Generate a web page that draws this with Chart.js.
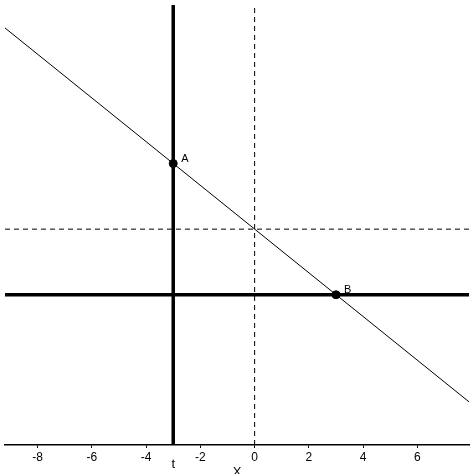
<!DOCTYPE html><html><head><script src="https://cdn.jsdelivr.net/npm/chart.js@4"></script>
<style>body{margin:0;background:#fff}#w{width:474px;height:474px}</style></head><body><div id="w"><canvas id="c"></canvas></div>
<script>
const xRange=[-9.2,7.9];
const lineX=[-9.2,7.9];
const lineY=[15.07,1.56];
const pointsX=[-3,3];
const pointsY=[10.17,5.43];
const pointLabels=['A','B'];
const vThickX=-3, hThickY=5.43, vDashX=0, hDashY=7.8;
const yRange=[0,15.9];
const xTicks=[-8,-6,-4,-2,0,2,4,6];
const ds=[
 {data:lineX.map((x,i)=>({x,y:lineY[i]})),showLine:true,borderColor:'#000',borderWidth:1,pointRadius:0},
 {data:[{x:vThickX,y:yRange[0]},{x:vThickX,y:yRange[1]}],showLine:true,borderColor:'#000',borderWidth:3.5,pointRadius:0},
 {data:[{x:xRange[0],y:hThickY},{x:xRange[1],y:hThickY}],showLine:true,borderColor:'#000',borderWidth:3.5,pointRadius:0},
 {data:[{x:vDashX,y:yRange[0]},{x:vDashX,y:yRange[1]}],showLine:true,borderColor:'#000',borderWidth:1,borderDash:[5,4],pointRadius:0},
 {data:[{x:xRange[0],y:hDashY},{x:xRange[1],y:hDashY}],showLine:true,borderColor:'#000',borderWidth:1,borderDash:[5,4],pointRadius:0},
 {data:pointsX.map((x,i)=>({x,y:pointsY[i]})),showLine:false,pointRadius:4,backgroundColor:'#000',borderColor:'#000'}
];
const labelsPlugin={id:'lbl',afterDatasetsDraw(ch){const c=ch.ctx,xs=ch.scales.x,ys=ch.scales.y;c.save();c.fillStyle='#000';c.font='11px "Liberation Sans"';
 pointsX.forEach((x,i)=>c.fillText(pointLabels[i],xs.getPixelForValue(x)+8,ys.getPixelForValue(pointsY[i])-2));
 c.textAlign='center';c.font='13px "Liberation Sans"';c.fillText('t',xs.getPixelForValue(vThickX),ys.bottom+23);c.restore();}};
new Chart(document.getElementById('c'),{type:'scatter',data:{datasets:ds},plugins:[labelsPlugin],
options:{responsive:true,maintainAspectRatio:false,animation:false,layout:{padding:{top:0,left:-5,right:-5,bottom:-6}},
plugins:{legend:{display:false},tooltip:{enabled:false}},
elements:{line:{tension:0}},
scales:{x:{type:'linear',min:xRange[0],max:xRange[1],afterBuildTicks:s=>{s.ticks=xTicks.map(v=>({value:v}));},
 grid:{drawOnChartArea:false,tickLength:3,color:'#000'},border:{color:'#000',width:1.5},
 ticks:{color:'#000',font:{size:12,family:'Liberation Sans'},padding:2,maxRotation:0},
 title:{display:true,text:'X',color:'#000',font:{size:13,family:'Liberation Sans'},padding:{top:-2,bottom:0}}},
 y:{min:yRange[0],max:yRange[1],display:false}}}});
</script></body></html>
